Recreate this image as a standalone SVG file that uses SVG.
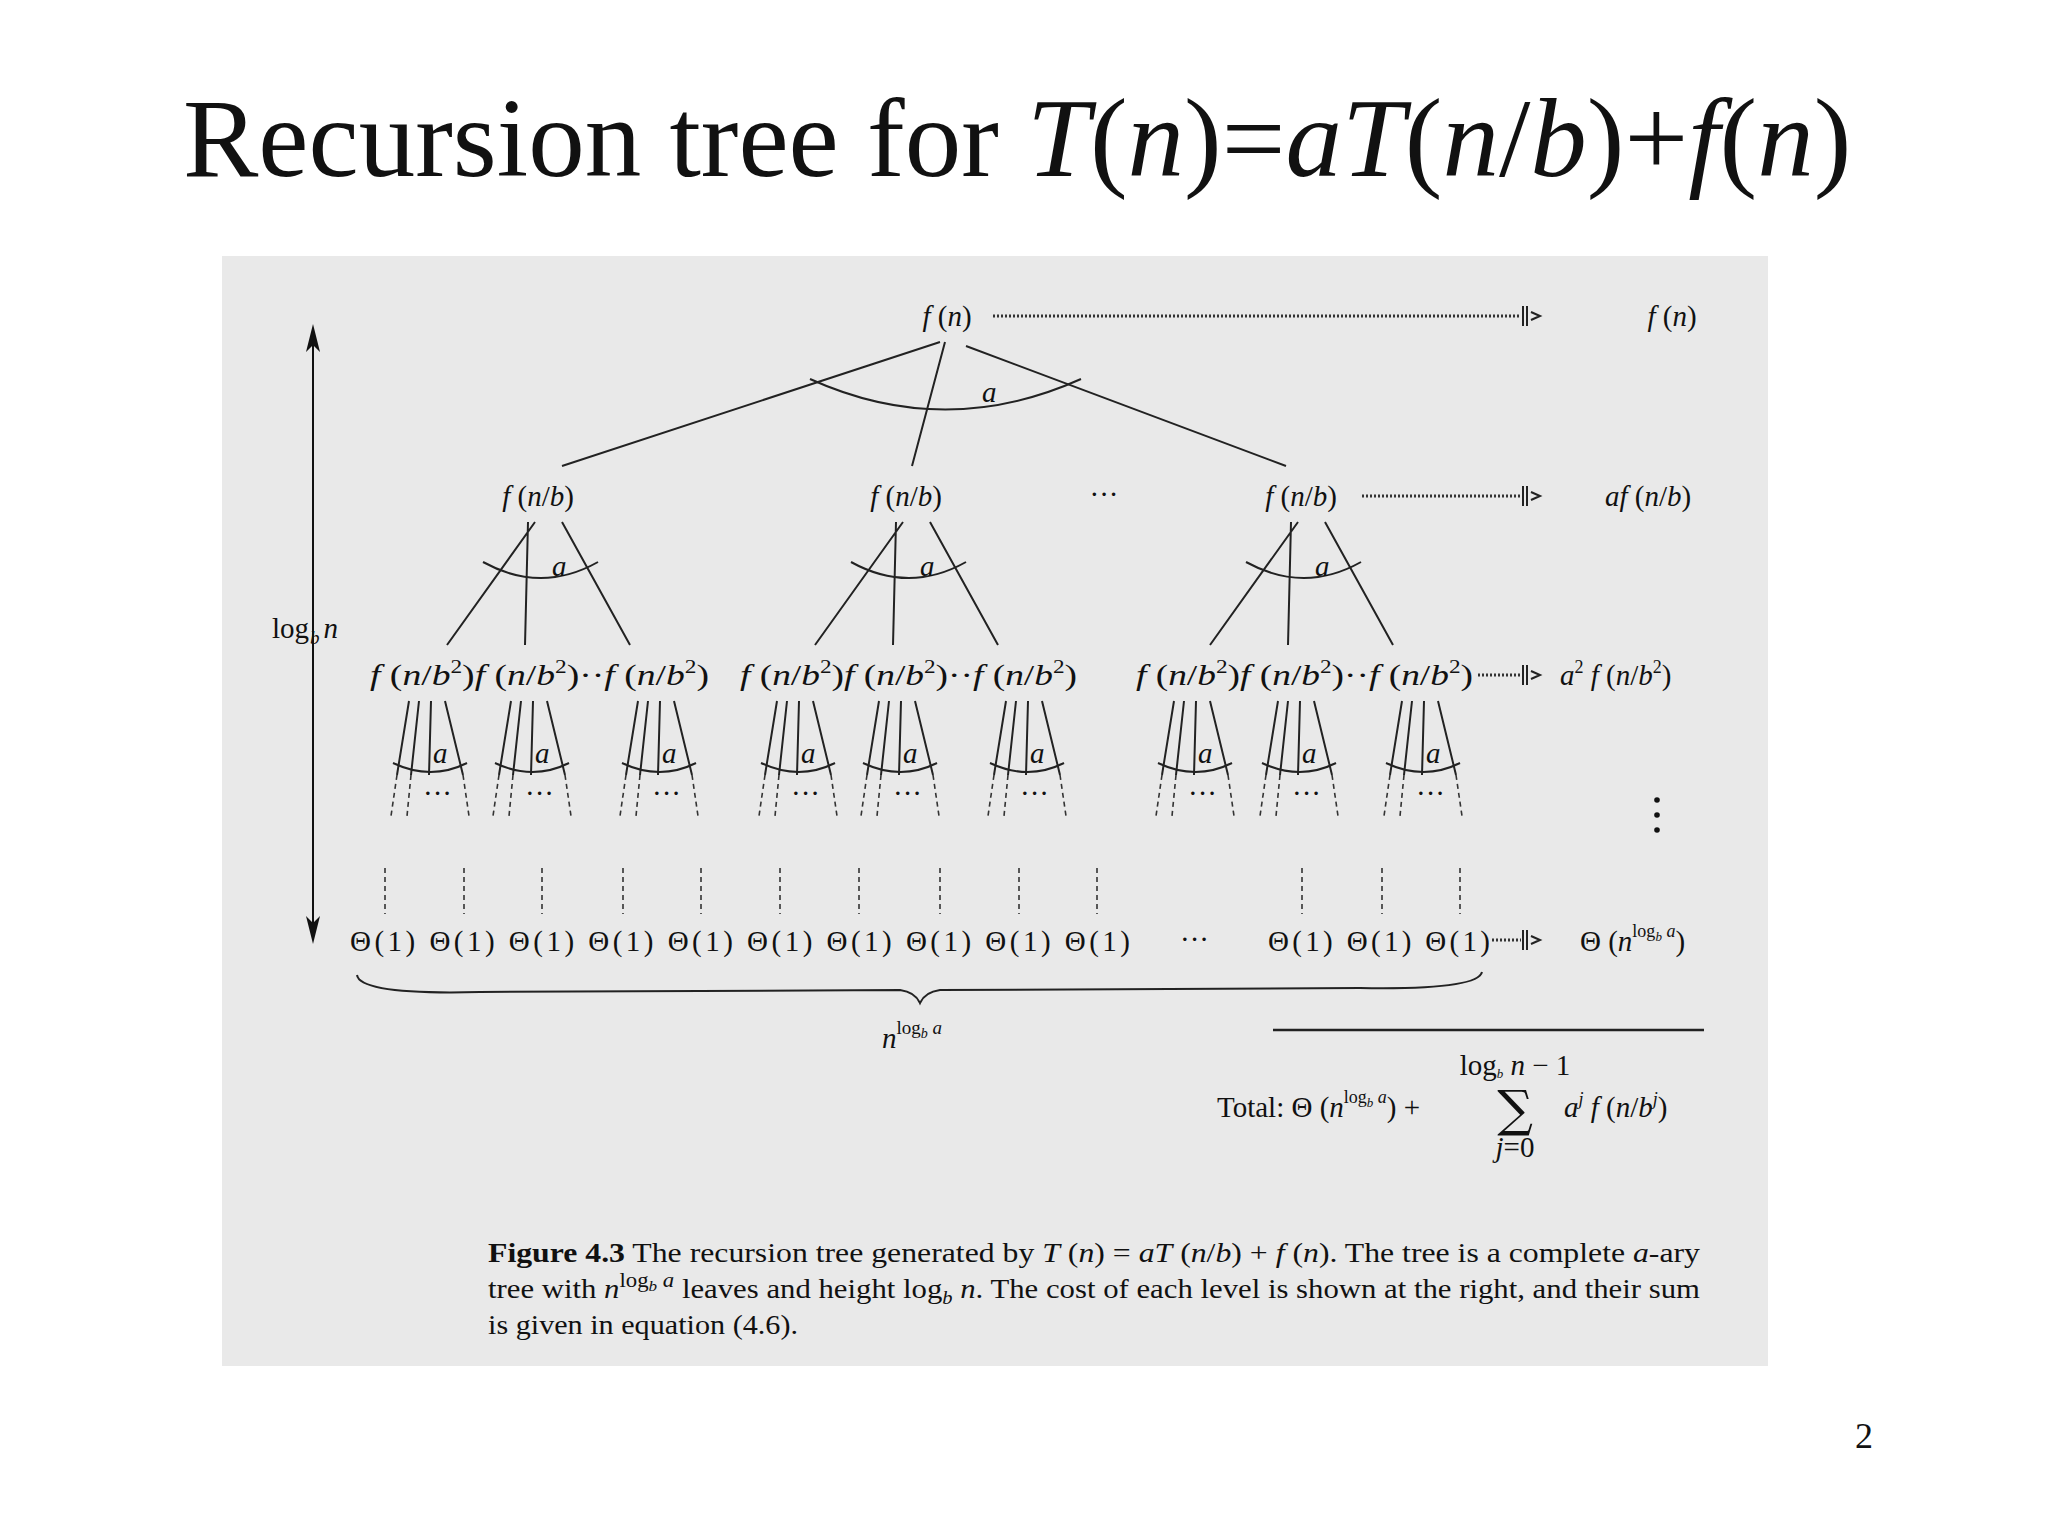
<svg xmlns="http://www.w3.org/2000/svg" width="2048" height="1536" viewBox="0 0 2048 1536">
<defs>
<style>
.t{font-family:"Liberation Serif",serif;fill:#111}
.m{font-family:"Liberation Serif",serif;font-style:italic;fill:#111;font-size:29px}
.r{font-family:"Liberation Serif",serif;fill:#111;font-size:29px}
.e{stroke:#222;stroke-width:2;fill:none}
.d{stroke:#333;stroke-width:1.6;stroke-dasharray:5,4;fill:none}
.dot{stroke:#333;stroke-width:3;stroke-dasharray:2,2;fill:none}
.cap{font-family:"Liberation Serif",serif;font-size:27px;fill:#111}
</style>
<g id="fan">
<path class="e" d="M-22,0 L-34,74 M-12,0 L-20,74 M0,0 L-2,74 M14,0 L32,74"/>
<path class="d" d="M-34,74 L-40,115 M-20,74 L-24,115 M32,74 L38,115"/>
<path class="e" d="M-38,62 Q0,80 36,62"/>
<text class="m" x="2" y="62" font-size="26">a</text>
<text class="r" x="-8" y="102" font-size="22">···</text>
</g>
<g id="fan1">
<path class="e" d="M-3,0 L-91,123 M-10,0 L-13,123 M24,0 L92,123"/>
<path class="e" d="M-55,40 Q3,72 60,40"/>
<text class="m" x="14" y="54" font-size="26">a</text>
</g>
</defs>
<rect width="2048" height="1536" fill="#fff"/>
<text class="t" x="183" y="176" font-size="113">Recursion tree for <tspan font-style="italic">T</tspan>(<tspan font-style="italic">n</tspan>)=<tspan font-style="italic">aT</tspan>(<tspan font-style="italic">n</tspan>/<tspan font-style="italic">b</tspan>)+<tspan font-style="italic">f</tspan>(<tspan font-style="italic">n</tspan>)</text>
<rect x="222" y="256" width="1546" height="1110" fill="#e9e9e9"/>
<text class="t" x="1864" y="1448" font-size="36" text-anchor="middle">2</text>

<g id="connectors">
<path class="e" d="M940,342 L562,466 M945,342 L912,466 M966,346 L1286,466"/>
<path class="e" d="M810,379 Q945,440 1081,379"/>
<path class="dot" d="M993,316 L1521,316 M1362,496 L1521,496 M1478,675 L1521,675 M1492,940 L1521,940"/>
<path class="e" d="M1523,306 L1523,326 M1527,306 L1527,326 M1531,312 L1540,316 L1531,320 M1523,486 L1523,506 M1527,486 L1527,506 M1531,492 L1540,496 L1531,500 M1523,665 L1523,685 M1527,665 L1527,685 M1531,671 L1540,675 L1531,679 M1523,930 L1523,950 M1527,930 L1527,950 M1531,936 L1540,940 L1531,944"/>
<path class="d" d="M385,868 V914 M464,868 V914 M542,868 V914 M623,868 V914 M701,868 V914 M780,868 V914 M859,868 V914 M940,868 V914 M1019,868 V914 M1097,868 V914 M1302,868 V914 M1382,868 V914 M1460,868 V914"/>
<circle cx="1657" cy="800" r="2.8" fill="#111"/><circle cx="1657" cy="815" r="2.8" fill="#111"/><circle cx="1657" cy="830" r="2.8" fill="#111"/>
<line x1="313" y1="340" x2="313" y2="925" stroke="#111" stroke-width="2"/>
<path d="M313,324 L306,352 L313,345 L320,352 Z M313,944 L306,916 L313,923 L320,916 Z" fill="#111"/>
<path class="e" stroke-width="2.4" d="M357,975 Q360,995 480,992 L900,990 Q915,992 920,1003 Q925,992 940,990 L1360,988 Q1478,990 1482,972"/>
<line x1="1273" y1="1030" x2="1704" y2="1030" stroke="#222" stroke-width="2.5"/>
</g>

<g id="root"><text class="m" x="947" y="326" text-anchor="middle">f<tspan font-style="normal"> (</tspan>n<tspan font-style="normal">)</tspan></text></g>
<text class="m" x="1672" y="326" text-anchor="middle">f<tspan font-style="normal"> (</tspan>n<tspan font-style="normal">)</tspan></text>
<text class="m" x="982" y="402" font-size="26">a</text>

<g id="level1">
<text class="m" x="538" y="506" text-anchor="middle">f<tspan font-style="normal"> (</tspan>n<tspan font-style="normal">/</tspan>b<tspan font-style="normal">)</tspan></text>
<text class="m" x="906" y="506" text-anchor="middle">f<tspan font-style="normal"> (</tspan>n<tspan font-style="normal">/</tspan>b<tspan font-style="normal">)</tspan></text>
<text class="m" x="1301" y="506" text-anchor="middle">f<tspan font-style="normal"> (</tspan>n<tspan font-style="normal">/</tspan>b<tspan font-style="normal">)</tspan></text>
<text class="r" x="1104" y="504" text-anchor="middle">···</text>
<text class="m" x="1648" y="506" text-anchor="middle">af<tspan font-style="normal"> (</tspan>n<tspan font-style="normal">/</tspan>b<tspan font-style="normal">)</tspan></text>
<use href="#fan1" x="538" y="522"/>
<use href="#fan1" x="906" y="522"/>
<use href="#fan1" x="1301" y="522"/>
</g>

<g id="level2">
<text class="m" x="370" y="685" textLength="339" lengthAdjust="spacingAndGlyphs">f<tspan font-style="normal"> (</tspan>n<tspan font-style="normal">/</tspan>b<tspan font-style="normal" font-size="18" dy="-12">2</tspan><tspan font-style="normal" dy="12">)</tspan>f<tspan font-style="normal"> (</tspan>n<tspan font-style="normal">/</tspan>b<tspan font-style="normal" font-size="18" dy="-12">2</tspan><tspan font-style="normal" dy="12">)··</tspan>f<tspan font-style="normal"> (</tspan>n<tspan font-style="normal">/</tspan>b<tspan font-style="normal" font-size="18" dy="-12">2</tspan><tspan font-style="normal" dy="12">)</tspan></text>
<text class="m" x="740" y="685" textLength="337" lengthAdjust="spacingAndGlyphs">f<tspan font-style="normal"> (</tspan>n<tspan font-style="normal">/</tspan>b<tspan font-style="normal" font-size="18" dy="-12">2</tspan><tspan font-style="normal" dy="12">)</tspan>f<tspan font-style="normal"> (</tspan>n<tspan font-style="normal">/</tspan>b<tspan font-style="normal" font-size="18" dy="-12">2</tspan><tspan font-style="normal" dy="12">)··</tspan>f<tspan font-style="normal"> (</tspan>n<tspan font-style="normal">/</tspan>b<tspan font-style="normal" font-size="18" dy="-12">2</tspan><tspan font-style="normal" dy="12">)</tspan></text>
<text class="m" x="1136" y="685" textLength="337" lengthAdjust="spacingAndGlyphs">f<tspan font-style="normal"> (</tspan>n<tspan font-style="normal">/</tspan>b<tspan font-style="normal" font-size="18" dy="-12">2</tspan><tspan font-style="normal" dy="12">)</tspan>f<tspan font-style="normal"> (</tspan>n<tspan font-style="normal">/</tspan>b<tspan font-style="normal" font-size="18" dy="-12">2</tspan><tspan font-style="normal" dy="12">)··</tspan>f<tspan font-style="normal"> (</tspan>n<tspan font-style="normal">/</tspan>b<tspan font-style="normal" font-size="18" dy="-12">2</tspan><tspan font-style="normal" dy="12">)</tspan></text>
<text class="m" x="1560" y="685">a<tspan font-style="normal" font-size="18" dy="-12">2</tspan><tspan dy="12"> f</tspan><tspan font-style="normal"> (</tspan>n<tspan font-style="normal">/</tspan>b<tspan font-style="normal" font-size="18" dy="-12">2</tspan><tspan font-style="normal" dy="12">)</tspan></text>
</g>

<g id="level3">
<use href="#fan" x="431" y="701"/>
<use href="#fan" x="533" y="701"/>
<use href="#fan" x="660" y="701"/>
<use href="#fan" x="799" y="701"/>
<use href="#fan" x="901" y="701"/>
<use href="#fan" x="1028" y="701"/>
<use href="#fan" x="1196" y="701"/>
<use href="#fan" x="1300" y="701"/>
<use href="#fan" x="1424" y="701"/>
</g>

<g id="leaves">
<text class="r" x="350" y="951" textLength="780">Θ(1) Θ(1) Θ(1) Θ(1) Θ(1) Θ(1) Θ(1) Θ(1) Θ(1) Θ(1)</text>
<text class="r" x="1180" y="949">···</text>
<text class="r" x="1268" y="951" textLength="222">Θ(1) Θ(1) Θ(1)</text>
<text class="r" x="1580" y="951">Θ (<tspan font-style="italic">n</tspan><tspan font-size="18" dy="-14">log</tspan><tspan font-size="13" font-style="italic" dy="4">b</tspan><tspan font-size="18" font-style="italic" dy="-4"> a</tspan><tspan dy="14">)</tspan></text>
</g>

<text class="r" x="272" y="638">log<tspan font-size="19" font-style="italic" dy="6" dx="1">b</tspan><tspan font-style="italic" dy="-6" dx="4">n</tspan></text>
<text class="r" x="882" y="1048"><tspan font-style="italic">n</tspan><tspan font-size="19" dy="-14">log</tspan><tspan font-size="14" font-style="italic" dy="4">b</tspan><tspan font-size="19" font-style="italic" dy="-4"> a</tspan></text>

<g id="total">
<text class="r" x="1217" y="1117">Total: Θ (<tspan font-style="italic">n</tspan><tspan font-size="18" dy="-14">log</tspan><tspan font-size="13" font-style="italic" dy="4">b</tspan><tspan font-size="18" font-style="italic" dy="-4"> a</tspan><tspan dy="14">) +</tspan></text>
<text x="1515" y="1126" font-family="DejaVu Serif, serif" font-size="50" text-anchor="middle" fill="#111">∑</text>
<text class="r" x="1515" y="1075" font-size="18" text-anchor="middle">log<tspan font-size="13" font-style="italic" dy="3">b</tspan><tspan font-style="italic" dy="-3"> n</tspan> − 1</text>
<text class="r" x="1515" y="1157" font-size="18" text-anchor="middle"><tspan font-style="italic">j</tspan>=0</text>
<text class="m" x="1564" y="1117">a<tspan font-size="18" dy="-12">j</tspan><tspan dy="12"> f</tspan><tspan font-style="normal"> (</tspan>n<tspan font-style="normal">/</tspan>b<tspan font-size="18" dy="-12">j</tspan><tspan font-style="normal" dy="12">)</tspan></text>
</g>

<g id="caption">
<text class="cap" x="488" y="1262" textLength="1212" lengthAdjust="spacingAndGlyphs"><tspan font-weight="bold">Figure 4.3</tspan>    The recursion tree generated by <tspan font-style="italic">T</tspan> (<tspan font-style="italic">n</tspan>) = <tspan font-style="italic">aT</tspan> (<tspan font-style="italic">n</tspan>/<tspan font-style="italic">b</tspan>) + <tspan font-style="italic">f</tspan> (<tspan font-style="italic">n</tspan>). The tree is a complete <tspan font-style="italic">a</tspan>-ary</text>
<text class="cap" x="488" y="1298" textLength="1212" lengthAdjust="spacingAndGlyphs">tree with <tspan font-style="italic">n</tspan><tspan font-size="20" dy="-11">log</tspan><tspan font-size="15" font-style="italic" dy="4">b</tspan><tspan font-size="20" font-style="italic" dy="-4"> a</tspan><tspan dy="11">  leaves and height log</tspan><tspan font-size="18" font-style="italic" dy="6">b</tspan><tspan font-style="italic" dy="-6"> n</tspan>. The cost of each level is shown at the right, and their sum</text>
<text class="cap" x="488" y="1334" textLength="310" lengthAdjust="spacingAndGlyphs">is given in equation (4.6).</text>
</g>
</svg>
